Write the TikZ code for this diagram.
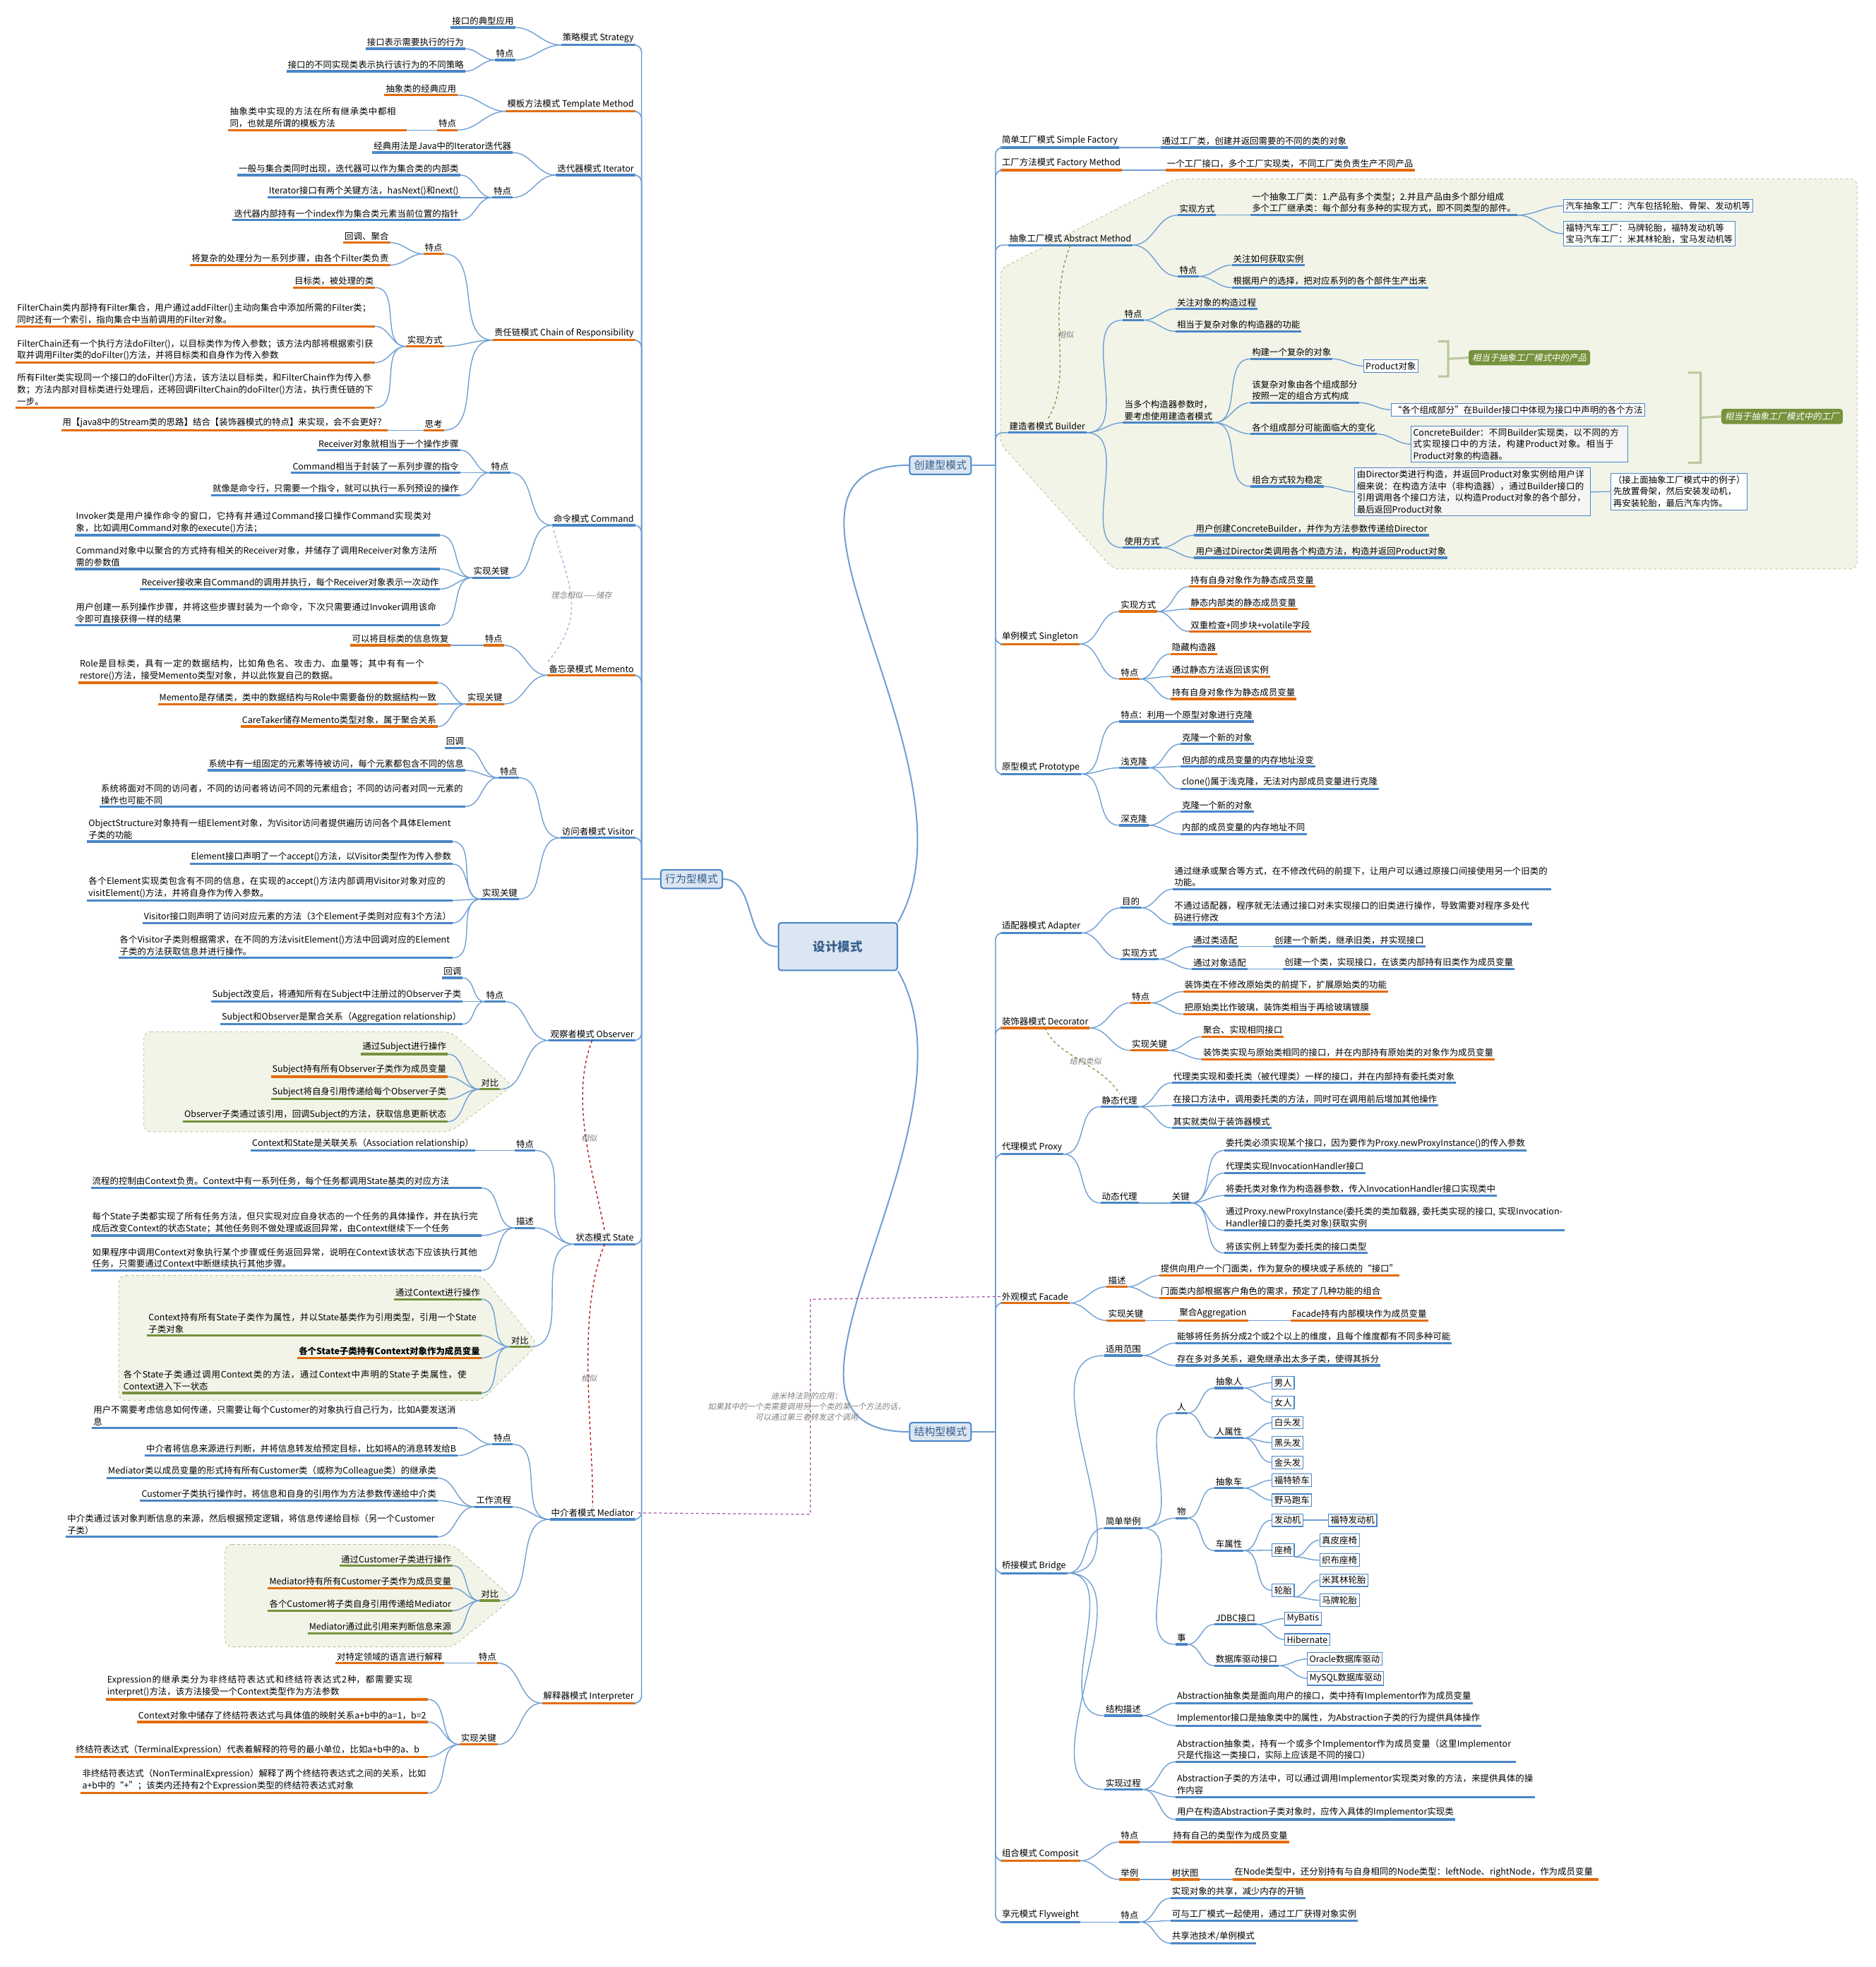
\documentclass[tikz,border=0pt]{standalone}
\usepackage{fontspec}
\setmainfont{Noto Sans CJK SC}
\newfontfamily\slfont[FakeSlant=0.2]{Noto Sans CJK SC}
\XeTeXlinebreaklocale "zh"
\XeTeXlinebreakskip=0pt plus 1pt
\definecolor{B}{HTML}{4A86C8}
\definecolor{O}{HTML}{E46C0A}
\definecolor{G}{HTML}{76923C}
\definecolor{GF}{HTML}{F2F4E8}
\definecolor{BF}{HTML}{DCE6F2}
\setlength{\unitlength}{0.5mm}
\tikzset{
 lf/.style={font=\fontsize{10}{13.5}\selectfont, inner xsep=1.5pt, inner ysep=2.5pt, align=left},
 ul/.style={draw=#1, line width=2.6pt},
 bx/.style={font=\fontsize{10}{13.5}\selectfont, draw=#1, line width=0.9pt, fill=white, inner sep=2.5pt, align=left},
 cn/.style={draw=B!80, line width=1.1pt},
 tr/.style={draw=B!80, line width=1.3pt, rounded corners=8pt},
 mb/.style={draw=B, line width=1.6pt, fill=BF, rounded corners=3pt, inner sep=5pt, font=\fontsize{12}{14}\selectfont\color{B!70!black}},
 gz/.style={fill=GF, draw=G!60, dashed, line width=0.6pt, rounded corners=8pt},
 gl/.style={fill=G, text=white, rounded corners=3pt, inner sep=4pt, font=\fontsize{10}{13}\slfont},
 nt/.style={font=\fontsize{9}{12}\slfont, text=gray, align=center}
}
\newcommand\Ln[5]{\node[lf,anchor=south east] (#1) at (#2,#3) {#5};\draw[ul=#4] (#1.south west) -- (#1.south east);}
\newcommand\Lm[6]{\node[lf,anchor=south east,text width=#4\unitlength] (#1) at (#2,#3) {#6};\draw[ul=#5] (#1.south west) -- (#1.south east);}
\newcommand\Rn[5]{\node[lf,anchor=south west] (#1) at (#2,#3) {#5};\draw[ul=#4] (#1.south west) -- (#1.south east);}
\newcommand\Rm[6]{\node[lf,anchor=south west,text width=#4\unitlength] (#1) at (#2,#3) {#6};\draw[ul=#5] (#1.south west) -- (#1.south east);}
\newcommand\Bx[4]{\node[bx=B,anchor=south west] (#1) at (#2,#3) {#4};}
\newcommand\Bm[5]{\node[bx=B,anchor=south west,text width=#4\unitlength,fill=gray!8] (#1) at (#2,#3) {#5};}
\newcommand\E[2]{\foreach \c in {#2}{\draw[cn] (#1.south west) to[out=180,in=0] (\c.south east);}}
\newcommand\F[2]{\foreach \c in {#2}{\draw[cn] (#1.south east) to[out=0,in=180] (\c.south west);}}
\newcommand\FB[2]{\foreach \c in {#2}{\draw[cn] (#1.south east) to[out=0,in=180] (\c.west);}}
\begin{document}
\begin{tikzpicture}[x=0.5mm,y=-0.5mm]
\useasboundingbox (0,0) rectangle (1500,1573);
% green zones
\draw[gz] (800,215) -- (940,143) -- (1485,143) -- (1485,455) -- (890,455) -- (800,355) -- cycle;
\draw[gz] (115,825) -- (360,825) -- (410,868) -- (360,905) -- (115,905) -- cycle;
\draw[gz] (95,1020) -- (385,1020) -- (430,1075) -- (385,1120) -- (95,1120) -- cycle;
\draw[gz] (180,1235) -- (362,1235) -- (410,1278) -- (362,1317) -- (180,1317) -- cycle;
% main
\node[mb,minimum width=95\unitlength,minimum height=38\unitlength,font=\fontsize{14}{16}\selectfont\bfseries\color{B!70!black}] (root) at (670,757) {设计模式};
\node[mb] (bh) at (553,703) {行为型模式};
\node[mb] (cr) at (752,372) {创建型模式};
\node[mb] (sr) at (752,1145) {结构型模式};
\draw[cn,line width=1.6pt] (root.west) to[out=180,in=0] (bh.east);
\draw[cn,line width=1.6pt] (root.north east) to[out=60,in=180] (cr.west);
\draw[cn,line width=1.6pt] (root.south east) to[out=-60,in=180] (sr.west);
% ===== LEFT
\Ln{st}{508}{36}{B}{策略模式 Strategy}
\Ln{st1}{412}{22}{B}{接口的典型应用}
\Ln{st2}{412}{48}{B}{特点}
\Ln{st21}{372}{39}{B}{接口表示需要执行的行为}
\Ln{st22}{372}{57}{B}{接口的不同实现类表示执行该行为的不同策略}
\E{st}{st1,st2}\E{st2}{st21,st22}
\Ln{tm}{508}{89}{O}{模板方法模式 Template Method}
\Ln{tm1}{366}{76}{O}{抽象类的经典应用}
\Ln{tm2}{366}{104}{O}{特点}
\Lm{tm21}{325}{104}{140}{O}{抽象类中实现的方法在所有继承类中都相同，也就是所谓的模板方法}
\E{tm}{tm1,tm2}\E{tm2}{tm21}
\Ln{it}{508}{140}{B}{迭代器模式 Iterator}
\Ln{it1}{410}{122}{B}{经典用法是Java中的Iterator迭代器}
\Ln{it2}{410}{158}{B}{特点}
\Ln{it21}{368}{140}{B}{一般与集合类同时出现，迭代器可以作为集合类的内部类}
\Ln{it22}{368}{158}{B}{Iterator接口有两个关键方法，hasNext()和next()}
\Ln{it23}{368}{176}{B}{迭代器内部持有一个index作为集合类元素当前位置的指针}
\E{it}{it1,it2}\E{it2}{it21,it22,it23}
\Ln{ch}{508}{272}{O}{责任链模式 Chain of Responsibility}
\Ln{ch1}{355}{203}{O}{特点}
\Ln{ch11}{312}{194}{O}{回调、聚合}
\Ln{ch12}{312}{212}{O}{将复杂的处理分为一系列步骤，由各个Filter类负责}
\Ln{ch2}{355}{277}{O}{实现方式}
\Ln{ch21}{300}{230}{O}{目标类，被处理的类}
\Lm{ch22}{300}{261}{285}{O}{FilterChain类内部持有Filter集合，用户通过addFilter()主动向集合中添加所需的Filter类；同时还有一个索引，指向集合中当前调用的Filter对象。}
\Lm{ch23}{300}{290}{285}{O}{FilterChain还有一个执行方法doFilter()，以目标类作为传入参数；该方法内部将根据索引获取并调用Filter类的doFilter()方法，并将目标类和自身作为传入参数}
\Lm{ch24}{300}{326}{285}{O}{所有Filter类实现同一个接口的doFilter()方法，该方法以目标类，和FilterChain作为传入参数；方法内部对目标类进行处理后，还将回调FilterChain的doFilter()方法，执行责任链的下一步。}
\Ln{ch3}{355}{344}{O}{思考}
\Ln{ch31}{310}{344}{O}{用【java8中的Stream类的思路】结合【装饰器模式的特点】来实现，会不会更好？}
\E{ch}{ch1,ch2,ch3}\E{ch1}{ch11,ch12}\E{ch2}{ch21,ch22,ch23,ch24}\E{ch3}{ch31}
\Ln{cm}{508}{420}{B}{命令模式 Command}
\Ln{cm1}{408}{378}{B}{特点}
\Ln{cm11}{368}{360}{B}{Receiver对象就相当于一个操作步骤}
\Ln{cm12}{368}{378}{B}{Command相当于封装了一系列步骤的指令}
\Ln{cm13}{368}{396}{B}{就像是命令行，只需要一个指令，就可以执行一系列预设的操作}
\Ln{cm2}{408}{462}{B}{实现关键}
\Lm{cm21}{352}{428}{290}{B}{Invoker类是用户操作命令的窗口，它持有并通过Command接口操作Command实现类对象，比如调用Command对象的execute()方法；}
\Lm{cm22}{352}{455}{290}{B}{Command对象中以聚合的方式持有相关的Receiver对象，并储存了调用Receiver对象方法所需的参数值}
\Ln{cm23}{352}{471}{B}{Receiver接收来自Command的调用并执行，每个Receiver对象表示一次动作}
\Lm{cm24}{352}{500}{290}{B}{用户创建一系列操作步骤，并将这些步骤封装为一个命令，下次只需要通过Invoker调用该命令即可直接获得一样的结果}
\E{cm}{cm1,cm2}\E{cm1}{cm11,cm12,cm13}\E{cm2}{cm21,cm22,cm23,cm24}
\Ln{me}{508}{540}{O}{备忘录模式 Memento}
\Ln{me1}{403}{516}{O}{特点}
\Ln{me11}{360}{516}{O}{可以将目标类的信息恢复}
\Ln{me2}{403}{563}{O}{实现关键}
\Lm{me21}{350}{546}{285}{O}{Role是目标类，具有一定的数据结构，比如角色名、攻击力、血量等；其中有有一个restore()方法，接受Memento类型对象，并以此恢复自己的数据。}
\Ln{me22}{350}{563}{O}{Memento是存储类，类中的数据结构与Role中需要备份的数据结构一致}
\Ln{me23}{350}{581}{O}{CareTaker储存Memento类型对象，属于聚合关系}
\E{me}{me1,me2}\E{me1}{me11}\E{me2}{me21,me22,me23}
\Ln{vi}{508}{670}{B}{访问者模式 Visitor}
\Ln{vi1}{415}{622}{B}{特点}
\Ln{vi11}{372}{598}{B}{回调}
\Ln{vi12}{372}{616}{B}{系统中有一组固定的元素等待被访问，每个元素都包含不同的信息}
\Lm{vi13}{372}{645}{290}{B}{系统将面对不同的访问者，不同的访问者将访问不同的元素组合；不同的访问者对同一元素的操作也可能不同}
\Ln{vi2}{415}{719}{B}{实现关键}
\Lm{vi21}{362}{673}{290}{B}{ObjectStructure对象持有一组Element对象，为Visitor访问者提供遍历访问各个具体Element子类的功能}
\Ln{vi22}{362}{691}{B}{Element接口声明了一个accept()方法，以Visitor类型作为传入参数}
\Lm{vi23}{362}{720}{290}{B}{各个Element实现类包含有不同的信息，在实现的accept()方法内部调用Visitor对象对应的visitElement()方法，并将自身作为传入参数。}
\Ln{vi24}{362}{738}{B}{Visitor接口则声明了访问对应元素的方法（3个Element子类则对应有3个方法）}
\Lm{vi25}{362}{766}{265}{B}{各个Visitor子类则根据需求，在不同的方法visitElement()方法中回调对应的Element子类的方法获取信息并进行操作。}
\E{vi}{vi1,vi2}\E{vi1}{vi11,vi12,vi13}\E{vi2}{vi21,vi22,vi23,vi24,vi25}
\Ln{ob}{508}{832}{B}{观察者模式 Observer}
\Ln{ob1}{404}{801}{B}{特点}
\Ln{ob11}{370}{782}{B}{回调}
\Ln{ob12}{370}{801}{B}{Subject改变后，将通知所有在Subject中注册过的Observer子类}
\Ln{ob13}{370}{819}{B}{Subject和Observer是聚合关系（Aggregation relationship）}
\Ln{ob2}{400}{871}{G}{对比}
\Ln{ob21}{358}{843}{G}{通过Subject进行操作}
\Ln{ob22}{358}{861}{O}{Subject持有所有Observer子类作为成员变量}
\Ln{ob23}{358}{879}{G}{Subject将自身引用传递给每个Observer子类}
\Ln{ob24}{358}{897}{G}{Observer子类通过该引用，回调Subject的方法，获取信息更新状态}
\E{ob}{ob1,ob2}\E{ob1}{ob11,ob12,ob13}\E{ob2}{ob21,ob22,ob23,ob24}
\Ln{sa}{508}{995}{B}{状态模式 State}
\Ln{sa1}{428}{920}{B}{特点}
\Ln{sa11}{380}{920}{B}{Context和State是关联关系（Association relationship）}
\Ln{sa2}{428}{982}{B}{描述}
\Lm{sa21}{385}{950}{310}{B}{流程的控制由Context负责。Context中有一系列任务，每个任务都调用State基类的对应方法}
\Lm{sa22}{385}{988}{310}{B}{每个State子类都实现了所有任务方法，但只实现对应自身状态的一个任务的具体操作，并在执行完成后改变Context的状态State；其他任务则不做处理或返回异常，由Context继续下一个任务}
\Lm{sa23}{385}{1016}{310}{B}{如果程序中调用Context对象执行某个步骤或任务返回异常，说明在Context该状态下应该执行其他任务，只需要通过Context中断继续执行其他步骤。}
\Ln{sa3}{424}{1077}{G}{对比}
\Ln{sa31}{385}{1039}{G}{通过Context进行操作}
\Lm{sa32}{385}{1068}{265}{G}{Context持有所有State子类作为属性，并以State基类作为引用类型，引用一个State子类对象}
\Ln{sa33}{385}{1086}{O}{\bfseries 各个State子类持有Context对象作为成员变量}
\Lm{sa34}{385}{1114}{285}{G}{各个State子类通过调用Context类的方法，通过Context中声明的State子类属性，使Context进入下一状态}
\E{sa}{sa1,sa2,sa3}\E{sa1}{sa11}\E{sa2}{sa21,sa22,sa23}\E{sa3}{sa31,sa32,sa33,sa34}
\Ln{md}{508}{1215}{B}{中介者模式 Mediator}
\Ln{md1}{410}{1155}{B}{特点}
\Lm{md11}{366}{1142}{290}{B}{用户不需要考虑信息如何传递，只需要让每个Customer的对象执行自己行为，比如A要发送消息}
\Ln{md12}{366}{1164}{B}{中介者将信息来源进行判断，并将信息转发给预定目标，比如将A的消息转发给B}
\Ln{md2}{410}{1205}{B}{工作流程}
\Ln{md21}{350}{1182}{B}{Mediator类以成员变量的形式持有所有Customer类（或称为Colleague类）的继承类}
\Ln{md22}{350}{1200}{B}{Customer子类执行操作时，将信息和自身的引用作为方法参数传递给中介类}
\Lm{md23}{350}{1229}{295}{B}{中介类通过该对象判断信息的来源，然后根据预定逻辑，将信息传递给目标（另一个Customer子类）}
\Ln{md3}{400}{1280}{G}{对比}
\Ln{md31}{362}{1252}{G}{通过Customer子类进行操作}
\Ln{md32}{362}{1270}{O}{Mediator持有所有Customer子类作为成员变量}
\Ln{md33}{362}{1288}{G}{各个Customer将子类自身引用传递给Mediator}
\Ln{md34}{362}{1306}{G}{Mediator通过此引用来判断信息来源}
\E{md}{md1,md2,md3}\E{md1}{md11,md12}\E{md2}{md21,md22,md23}\E{md3}{md31,md32,md33,md34}
\Ln{ip}{508}{1362}{O}{解释器模式 Interpreter}
\Ln{ip1}{398}{1330}{O}{特点}
\Ln{ip11}{355}{1330}{O}{对特定领域的语言进行解释}
\Ln{ip2}{398}{1395}{O}{实现关键}
\Lm{ip21}{342}{1359}{255}{O}{Expression的继承类分为非终结符表达式和终结符表达式2种，都需要实现interpret()方法，该方法接受一个Context类型作为方法参数}
\Ln{ip22}{342}{1377}{O}{Context对象中储存了终结符表达式与具体值的映射关系a+b中的a=1，b=2}
\Lm{ip23}{342}{1405}{280}{O}{终结符表达式（TerminalExpression）代表着解释的符号的最小单位，比如a+b中的a、b}
\Lm{ip24}{342}{1434}{275}{O}{非终结符表达式（NonTerminalExpression）解释了两个终结符表达式之间的关系，比如a+b中的“+”；该类内还持有2个Expression类型的终结符表达式对象}
\E{ip}{ip1,ip2}\E{ip1}{ip11}\E{ip2}{ip21,ip22,ip23,ip24}
\coordinate (bt) at (513,703);
\draw[tr] (bh.west) -- (bt);
\foreach \n in {st,tm,it,ch,cm,me,vi,ob,sa,md,ip}{\draw[tr] (bt) |- (\n.south east);}
% ===== RIGHT creational
\Rn{sf}{800}{118}{B}{简单工厂模式 Simple Factory}
\Rn{sf1}{928}{118}{B}{通过工厂类，创建并返回需要的不同的类的对象}
\Rn{fm}{800}{136}{O}{工厂方法模式 Factory Method}
\Rn{fm1}{932}{136}{O}{一个工厂接口，多个工厂实现类，不同工厂类负责生产不同产品}
\F{sf}{sf1}\F{fm}{fm1}
\Rn{af}{806}{196}{B}{抽象工厂模式 Abstract Method}
\Rn{af1}{942}{172}{B}{实现方式}
\Rn{af11}{1000}{172}{B}{一个抽象工厂类：1.产品有多个类型；2.并且产品由多个部分组成\\多个工厂继承类：每个部分有多种的实现方式，即不同类型的部件。}
\Bx{af111}{1250}{170}{汽车抽象工厂：汽车包括轮胎、骨架、发动机等}
\Bx{af112}{1250}{197}{福特汽车工厂：马牌轮胎，福特发动机等\\宝马汽车工厂：米其林轮胎，宝马发动机等}
\Rn{af2}{942}{221}{B}{特点}
\Rn{af21}{985}{212}{B}{关注如何获取实例}
\Rn{af22}{985}{230}{B}{根据用户的选择，把对应系列的各个部件生产出来}
\F{af}{af1,af2}\F{af1}{af11}\FB{af11}{af111,af112}\F{af2}{af21,af22}
\Rn{bd}{806}{346}{B}{建造者模式 Builder}
\Rn{bd1}{898}{256}{B}{特点}
\Rn{bd11}{940}{247}{B}{关注对象的构造过程}
\Rn{bd12}{940}{265}{B}{相当于复杂对象的构造器的功能}
\Rn{bd2}{898}{338}{B}{当多个构造器参数时，\\要考虑使用建造者模式}
\Rn{bd21}{1000}{287}{B}{构建一个复杂的对象}
\Bx{bd211}{1090}{298}{Product对象}
\Rn{bd22}{1000}{322}{B}{该复杂对象由各个组成部分\\按照一定的组合方式构成}
\Bx{bd221}{1112}{333}{“各个组成部分”在Builder接口中体现为接口中声明的各个方法}
\Rn{bd23}{1000}{347}{B}{各个组成部分可能面临大的变化}
\Bm{bd231}{1128}{370}{170}{ConcreteBuilder：不同Builder实现类，以不同的方式实现接口中的方法，构建Product对象。相当于Product对象的构造器。}
\Rn{bd24}{1000}{389}{B}{组合方式较为稳定}
\Bm{bd241}{1083}{413}{185}{由Director类进行构造，并返回Product对象实例给用户详细来说：在构造方法中（非构造器），通过Builder接口的引用调用各个接口方法，以构造Product对象的各个部分，最后返回Product对象}
\Bx{bd2411}{1288}{408}{（接上面抽象工厂模式中的例子）\\先放置骨架，然后安装发动机，\\再安装轮胎，最后汽车内饰。}
\Rn{bd3}{898}{438}{B}{使用方式}
\Rn{bd31}{955}{428}{B}{用户创建ConcreteBuilder，并作为方法参数传递给Director}
\Rn{bd32}{955}{446}{B}{用户通过Director类调用各个构造方法，构造并返回Product对象}
\F{bd}{bd1,bd2,bd3}\F{bd1}{bd11,bd12}\F{bd2}{bd21,bd22,bd23,bd24}\FB{bd21}{bd211}\FB{bd22}{bd221}\FB{bd23}{bd231}\FB{bd24}{bd241}\draw[cn] (bd241.east) -- (bd2411.west);\F{bd3}{bd31,bd32}
\node[gl] (g1) at (1223,286) {相当于抽象工厂模式中的产品};
\node[gl] (g2) at (1425,333) {相当于抽象工厂模式中的工厂};
\draw[G!50,line width=2.5pt] (1150,273) -- (1158,273) -- (1158,301) -- (1150,301) (1158,287) -- (g1.west);
\draw[G!50,line width=2.5pt] (1350,298) -- (1360,298) -- (1360,370) -- (1350,370) (1360,334) -- (g2.west);
\draw[G,dashed,line width=1pt] (af.south) .. controls (835,250) and (860,300) .. (bd.north);
\node[nt] (xs1) at (852,268) {相似};
\Rn{sg}{800}{515}{O}{单例模式 Singleton}
\Rn{sg1}{895}{489}{O}{实现方式}
\Rn{sg11}{951}{469}{O}{持有自身对象作为静态成员变量}
\Rn{sg12}{951}{487}{O}{静态内部类的静态成员变量}
\Rn{sg13}{951}{505}{O}{双重检查+同步块+volatile字段}
\Rn{sg2}{895}{543}{O}{特点}
\Rn{sg21}{936}{523}{O}{隐藏构造器}
\Rn{sg22}{936}{541}{O}{通过静态方法返回该实例}
\Rn{sg23}{936}{559}{O}{持有自身对象作为静态成员变量}
\F{sg}{sg1,sg2}\F{sg1}{sg11,sg12,sg13}\F{sg2}{sg21,sg22,sg23}
\Rn{pt}{800}{619}{B}{原型模式 Prototype}
\Rn{pt1}{895}{577}{B}{特点：利用一个原型对象进行克隆}
\Rn{pt2}{895}{614}{B}{浅克隆}
\Rn{pt21}{944}{595}{B}{克隆一个新的对象}
\Rn{pt22}{944}{613}{B}{但内部的成员变量的内存地址没变}
\Rn{pt23}{944}{631}{B}{clone()属于浅克隆，无法对内部成员变量进行克隆}
\Rn{pt3}{895}{660}{B}{深克隆}
\Rn{pt31}{944}{649}{B}{克隆一个新的对象}
\Rn{pt32}{944}{667}{B}{内部的成员变量的内存地址不同}
\F{pt}{pt1,pt2,pt3}\F{pt2}{pt21,pt22,pt23}\F{pt3}{pt31,pt32}
\coordinate (ct) at (796,372);
\draw[tr] (cr.east) -- (ct);
\foreach \n in {sf,fm,af,bd,sg,pt}{\draw[tr] (ct) |- (\n.south west);}
% ===== RIGHT structural
\Rn{ad}{800}{746}{B}{适配器模式 Adapter}
\Rn{ad1}{896}{726}{B}{目的}
\Rm{ad11}{938}{711}{300}{B}{通过继承或聚合等方式，在不修改代码的前提下，让用户可以通过原接口间接使用另一个旧类的功能。}
\Rm{ad12}{938}{739}{285}{B}{不通过适配器，程序就无法通过接口对未实现接口的旧类进行操作，导致需要对程序多处代码进行修改}
\Rn{ad2}{896}{767}{B}{实现方式}
\Rn{ad21}{953}{757}{B}{通过类适配}
\Rn{ad211}{1018}{757}{B}{创建一个新类，继承旧类，并实现接口}
\Rn{ad22}{953}{775}{B}{通过对象适配}
\Rn{ad221}{1026}{775}{B}{创建一个类，实现接口，在该类内部持有旧类作为成员变量}
\F{ad}{ad1,ad2}\F{ad1}{ad11,ad12}\F{ad2}{ad21,ad22}\F{ad21}{ad211}\F{ad22}{ad221}
\Rn{dc}{800}{822}{O}{装饰器模式 Decorator}
\Rn{dc1}{904}{802}{O}{特点}
\Rn{dc11}{946}{793}{O}{装饰类在不修改原始类的前提下，扩展原始类的功能}
\Rn{dc12}{946}{811}{O}{把原始类比作玻璃，装饰类相当于再给玻璃镀膜}
\Rn{dc2}{904}{840}{O}{实现关键}
\Rn{dc21}{961}{829}{O}{聚合、实现相同接口}
\Rn{dc22}{961}{847}{O}{装饰类实现与原始类相同的接口，并在内部持有原始类的对象作为成员变量}
\F{dc}{dc1,dc2}\F{dc1}{dc11,dc12}\F{dc2}{dc21,dc22}
\Rn{px}{800}{923}{B}{代理模式 Proxy}
\Rn{px1}{880}{885}{B}{静态代理}
\Rn{px11}{937}{866}{B}{代理类实现和委托类（被代理类）一样的接口，并在内部持有委托类对象}
\Rn{px12}{937}{884}{B}{在接口方法中，调用委托类的方法，同时可在调用前后增加其他操作}
\Rn{px13}{937}{902}{B}{其实就类似于装饰器模式}
\Rn{px2}{880}{962}{B}{动态代理}
\Rn{px21}{936}{962}{B}{关键}
\Rn{px211}{979}{920}{B}{委托类必须实现某个接口，因为要作为Proxy.newProxyInstance()的传入参数}
\Rn{px212}{979}{938}{B}{代理类实现InvocationHandler接口}
\Rn{px213}{979}{956}{B}{将委托类对象作为构造器参数，传入InvocationHandler接口实现类中}
\Rm{px214}{979}{984}{270}{B}{通过Proxy.newProxyInstance(委托类的类加载器, 委托类实现的接口, 实现InvocationHandler接口的委托类对象)获取实例}
\Rn{px215}{979}{1002}{B}{将该实例上转型为委托类的接口类型}
\F{px}{px1,px2}\F{px1}{px11,px12,px13}\F{px2}{px21}\F{px21}{px211,px212,px213,px214,px215}
\draw[G,dashed,line width=1pt] (dc.south) .. controls (845,845) and (880,850) .. (px1.north);
\node[nt] (xs2) at (868,849) {结构类似};
\Rn{fc}{800}{1042}{O}{外观模式 Facade}
\Rn{fc1}{885}{1029}{O}{描述}
\Rn{fc11}{927}{1020}{O}{提供向用户一个门面类，作为复杂的模块或子系统的“接口”}
\Rn{fc12}{927}{1038}{O}{门面类内部根据客户角色的需求，预定了几种功能的组合}
\Rn{fc2}{885}{1056}{O}{实现关键}
\Rn{fc21}{942}{1056}{O}{聚合Aggregation}
\Rn{fc211}{1032}{1056}{O}{Facade持有内部模块作为成员变量}
\F{fc}{fc1,fc2}\F{fc1}{fc11,fc12}\F{fc2}{fc21}\F{fc21}{fc211}
\Rn{br}{800}{1258}{B}{桥接模式 Bridge}
\Rn{br1}{883}{1084}{B}{适用范围}
\Rn{br11}{940}{1074}{B}{能够将任务拆分成2个或2个以上的维度，且每个维度都有不同多种可能}
\Rn{br12}{940}{1092}{B}{存在多对多关系，避免继承出太多子类，使得其拆分}
\Rn{br2}{883}{1222}{B}{简单举例}
\Rn{br21}{940}{1130}{B}{人}
\Rn{br211}{971}{1110}{B}{抽象人}
\Bx{b1}{1017}{1111}{男人}\Bx{b2}{1017}{1127}{女人}
\Rn{br212}{971}{1150}{B}{人属性}
\Bx{b3}{1017}{1143}{白头发}\Bx{b4}{1017}{1159}{黑头发}\Bx{b5}{1017}{1175}{金头发}
\Rn{br22}{940}{1214}{B}{物}
\Rn{br221}{971}{1190}{B}{抽象车}
\Bx{b6}{1017}{1189}{福特轿车}\Bx{b7}{1017}{1205}{野马跑车}
\Rn{br222}{971}{1240}{B}{车属性}
\Bx{b8}{1017}{1221}{发动机}\Bx{b81}{1062}{1221}{福特发动机}
\Bx{b9}{1017}{1245}{座椅}\Bx{b91}{1055}{1237}{真皮座椅}\Bx{b92}{1055}{1253}{织布座椅}
\Bx{b10}{1017}{1277}{轮胎}\Bx{b101}{1055}{1269}{米其林轮胎}\Bx{b102}{1055}{1285}{马牌轮胎}
\Rn{br23}{940}{1315}{B}{事}
\Rn{br231}{971}{1299}{B}{JDBC接口}
\Bx{b11}{1027}{1300}{MyBatis}\Bx{b12}{1027}{1316}{Hibernate}
\Rn{br232}{971}{1332}{B}{数据库驱动接口}
\Bx{b13}{1045}{1332}{Oracle数据库驱动}\Bx{b14}{1045}{1348}{MySQL数据库驱动}
\Rn{br3}{883}{1372}{B}{结构描述}
\Rn{br31}{940}{1362}{B}{Abstraction抽象类是面向用户的接口，类中持有Implementor作为成员变量}
\Rn{br32}{940}{1380}{B}{Implementor接口是抽象类中的属性，为Abstraction子类的行为提供具体操作}
\Rn{br4}{883}{1431}{B}{实现过程}
\Rm{br41}{940}{1409}{270}{B}{Abstraction抽象类，持有一个或多个Implementor作为成员变量（这里Implementor只是代指这一类接口，实际上应该是不同的接口）}
\Rm{br42}{940}{1437}{285}{B}{Abstraction子类的方法中，可以通过调用Implementor实现类对象的方法，来提供具体的操作内容}
\Rn{br43}{940}{1455}{B}{用户在构造Abstraction子类对象时，应传入具体的Implementor实现类}
\F{br}{br1,br2,br3,br4}\F{br1}{br11,br12}\F{br2}{br21,br22,br23}\F{br21}{br211,br212}\F{br22}{br221,br222}\F{br23}{br231,br232}
\FB{br211}{b1,b2}\FB{br212}{b3,b4,b5}\FB{br221}{b6,b7}\FB{br222}{b8,b9,b10}\draw[cn] (b8.east)--(b81.west);\FB{b9}{b91,b92}\FB{b10}{b101,b102}\FB{br231}{b11,b12}\FB{br232}{b13,b14}
\F{br3}{br31,br32}\F{br4}{br41,br42,br43}
\Rn{cp}{800}{1488}{O}{组合模式 Composit}
\Rn{cp1}{895}{1473}{O}{特点}
\Rn{cp11}{937}{1473}{O}{持有自己的类型作为成员变量}
\Rn{cp2}{895}{1503}{O}{举例}
\Rn{cp21}{936}{1503}{O}{树状图}
\Rm{cp211}{986}{1503}{290}{O}{在Node类型中，还分别持有与自身相同的Node类型：leftNode、rightNode，作为成员变量}
\F{cp}{cp1,cp2}\F{cp1}{cp11}\F{cp2}{cp21}\F{cp21}{cp211}
\Rn{fw}{800}{1537}{B}{享元模式 Flyweight}
\Rn{fw1}{895}{1537}{B}{特点}
\Rn{fw11}{936}{1518}{B}{实现对象的共享，减少内存的开销}
\Rn{fw12}{936}{1536}{B}{可与工厂模式一起使用，通过工厂获得对象实例}
\Rn{fw13}{936}{1554}{B}{共享池技术/单例模式}
\F{fw}{fw1}\F{fw1}{fw11,fw12,fw13}
\coordinate (rt) at (796,1145);
\draw[tr] (sr.east) -- (rt);
\foreach \n in {ad,dc,px,fc,br,cp,fw}{\draw[tr] (rt) |- (\n.south west);}
% ===== cross links
\draw[B!60,dashed,line width=1pt] (cm.south west) .. controls (455,470) and (470,490) .. (me.north west);
\node[nt] (xs3) at (465,476) {理念相似——储存};
\draw[red!70!black,dashed,line width=1pt] (ob.south) .. controls (455,880) and (475,940) .. (sa.north);
\node[nt] (xs4) at (471,910) {相似};
\draw[red!70!black,dashed,line width=1pt] (sa.south) .. controls (460,1050) and (475,1150) .. (md.north);
\node[nt] (xs5) at (471,1102) {相似};
\coordinate (k1) at (648,1039);
\coordinate (k2) at (648,1211);
\draw[violet!70,dashed,line width=1pt] (fc.west) -- (k1) -- (k2) -- (md.east);
\node[nt,text=gray] (xs6) at (645,1125) {迪米特法则的应用：\\如果其中的一个类需要调用另一个类的某一个方法的话，\\可以通过第三者转发这个调用};
\end{tikzpicture}
\end{document}
